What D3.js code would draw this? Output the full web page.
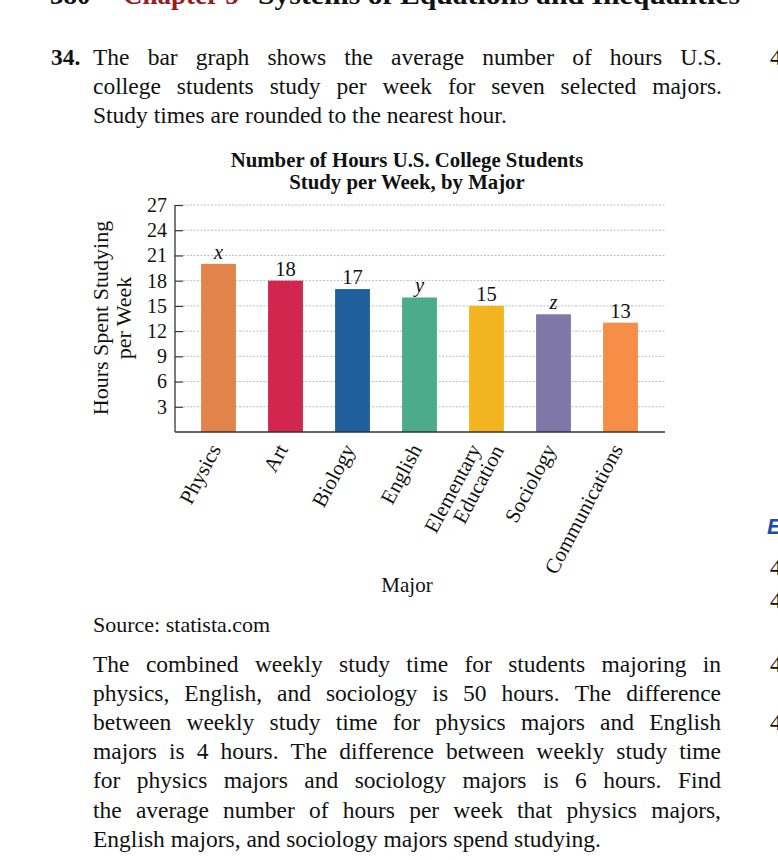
<!DOCTYPE html>
<html>
<head>
<meta charset="utf-8">
<script src="https://cdn.jsdelivr.net/npm/d3@7"></script>
<style>
  html, body { margin: 0; padding: 0; background: #fff; }
  svg { display: block; }
</style>
</head>
<body>
<svg id="page" width="778" height="860"></svg>
<script>
// ---------- data ----------
const majors = ["Physics", "Art", "Biology", "English", "Elementary Education", "Sociology", "Communications"];
const hours = [20, 18, 17, 16, 15, 14, 13];
const valueLabels = ["x", "18", "17", "y", "15", "z", "13"];
const italicLabels = [true, false, false, true, false, true, false];
const barColors = ["#E2834B", "#D2264F", "#1F609C", "#4BAB8B", "#F2B520", "#7E77A8", "#F68E47"];
const yTicks = [3, 6, 9, 12, 15, 18, 21, 24, 27];
const chartTitle = ["Number of Hours U.S. College Students", "Study per Week, by Major"];
const yTitle = ["Hours Spent Studying", "per Week"];
const xTitle = "Major";
const sourceText = "Source: statista.com";
const problemNumber = "34.";
const introLines = [
  "The bar graph shows the average number of hours U.S.",
  "college students study per week for seven selected majors.",
  "Study times are rounded to the nearest hour."
];
const questionLines = [
  "The combined weekly study time for students majoring in",
  "physics, English, and sociology is 50 hours. The difference",
  "between weekly study time for physics majors and English",
  "majors is 4 hours. The difference between weekly study time",
  "for physics majors and sociology majors is 6 hours. Find",
  "the average number of hours per week that physics majors,",
  "English majors, and sociology majors spend studying."
];

// ---------- setup ----------
const svg = d3.select("#page");
const SERIF = "'Liberation Serif', 'Times New Roman', serif";

function measure(text, size, weight) {
  const t = svg.append("text").attr("font-family", SERIF).attr("font-size", size)
    .attr("font-weight", weight || "normal").text(text);
  const w = t.node().getComputedTextLength();
  t.remove();
  return w;
}

function paragraphLine(text, x0, x1, y, size, justify) {
  const t = svg.append("text").attr("font-family", SERIF).attr("font-size", size)
    .attr("fill", "#111").attr("y", y);
  if (!justify) { t.attr("x", x0).text(text); return; }
  const words = text.split(" ");
  const widths = words.map(w => measure(w, size));
  const total = d3.sum(widths);
  const gap = (x1 - x0 - total) / (words.length - 1);
  if (gap < 3) {
    t.attr("x", x0).attr("textLength", x1 - x0).attr("lengthAdjust", "spacingAndGlyphs").text(text);
    return;
  }
  let x = x0;
  words.forEach((w, i) => {
    t.append("tspan").attr("x", x).text(w);
    x += widths[i] + gap;
  });
}

// ---------- page header (clipped at top, as in the scan) ----------
const header = svg.append("text").attr("y", 4).attr("font-family", SERIF)
  .attr("font-weight", "bold").attr("font-size", 27);
header.append("tspan").attr("x", 50).attr("fill", "#111").text("380");
header.append("tspan").attr("x", 123).attr("fill", "#9A1B1E").text("Chapter 5");
svg.append("text").attr("x", 258).attr("y", 4).attr("font-family", SERIF)
  .attr("font-weight", "bold").attr("font-size", 27).attr("fill", "#111")
  .attr("textLength", 482).attr("lengthAdjust", "spacingAndGlyphs")
  .text("Systems of Equations and Inequalities");

// ---------- intro paragraph ----------
const TEXT_SIZE = 23.5;
const X0 = 93, X1 = 722;
svg.append("text").attr("x", 51).attr("y", 65).attr("font-family", SERIF)
  .attr("font-weight", "bold").attr("font-size", TEXT_SIZE).attr("fill", "#111").text(problemNumber);
introLines.forEach((line, i) => {
  paragraphLine(line, X0, X1, 65 + i * 29.2, TEXT_SIZE, i < introLines.length - 1);
});

// ---------- chart ----------
const y = d3.scaleLinear().domain([0, 27]).range([432, 205]);
const x = d3.scaleBand().domain(majors).range([185, 654]).paddingInner(0.48).paddingOuter(0.24);
const axisX0 = 175, axisX1 = 665;

// title
chartTitle.forEach((line, i) => {
  svg.append("text").attr("x", 407).attr("y", 166.5 + i * 22.8)
    .attr("text-anchor", "middle").attr("font-family", SERIF).attr("font-weight", "bold")
    .attr("font-size", 20.8).attr("fill", "#111").text(line);
});

// gridlines
svg.append("g").selectAll("line").data(yTicks).join("line")
  .attr("x1", axisX0 + 8).attr("x2", axisX1)
  .attr("y1", d => y(d)).attr("y2", d => y(d))
  .attr("stroke", "#bdbdbd").attr("stroke-width", 1).attr("stroke-dasharray", "2,1.5");

// bars
svg.append("g").selectAll("rect").data(majors).join("rect")
  .attr("x", d => x(d)).attr("width", x.bandwidth())
  .attr("y", (d, i) => y(hours[i])).attr("height", (d, i) => y(0) - y(hours[i]))
  .attr("fill", (d, i) => barColors[i]);

// value labels
svg.append("g").selectAll("text").data(majors).join("text")
  .attr("x", d => x(d) + x.bandwidth() / 2)
  .attr("y", (d, i) => y(hours[i]) - 5)
  .attr("text-anchor", "middle").attr("font-family", SERIF).attr("font-size", 20.5)
  .attr("font-style", (d, i) => italicLabels[i] ? "italic" : "normal")
  .attr("fill", "#111")
  .text((d, i) => valueLabels[i]);

// y axis
const yAxis = d3.axisLeft(y).tickValues(yTicks).tickSizeInner(-8).tickSizeOuter(0).tickPadding(8);
const gy = svg.append("g").attr("transform", `translate(${axisX0},0)`).call(yAxis);
gy.select(".domain").attr("stroke", "#333").attr("stroke-width", 1.3)
  .attr("d", `M0,${y(27)}V${y(0)}`);
gy.selectAll(".tick line").attr("stroke", "#333").attr("stroke-width", 1.2);
gy.selectAll(".tick text").attr("font-family", SERIF).attr("font-size", 20).attr("fill", "#111");

// x axis baseline
svg.append("line").attr("x1", axisX0).attr("x2", axisX1).attr("y1", y(0)).attr("y2", y(0))
  .attr("stroke", "#333").attr("stroke-width", 1.5);

// category labels (rotated)
const ANG = -62;
majors.forEach((m, i) => {
  const cx = x(m) + x.bandwidth() / 2;
  const parts = m === "Elementary Education" ? [["Elementary", cx - 5, 449], ["Education", cx + 18, 450]]
                                             : [[m, cx + 3, 449]];
  parts.forEach(([txt, px, py]) => {
    svg.append("text").attr("transform", `translate(${px},${py}) rotate(${ANG})`)
      .attr("text-anchor", "end").attr("font-family", SERIF).attr("font-size", 21)
      .attr("fill", "#111").text(txt);
  });
});

// axis titles
svg.append("text").attr("x", 407).attr("y", 591.5).attr("text-anchor", "middle")
  .attr("font-family", SERIF).attr("font-size", 21).attr("fill", "#111").text(xTitle);
yTitle.forEach((line, i) => {
  svg.append("text").attr("transform", `translate(${108 + i * 23},318) rotate(-90)`)
    .attr("text-anchor", "middle").attr("font-family", SERIF).attr("font-size", 22)
    .attr("fill", "#111").text(line);
});

// source
svg.append("text").attr("x", 93).attr("y", 631.5).attr("font-family", SERIF)
  .attr("font-size", 22).attr("fill", "#111").text(sourceText);

// question paragraph
questionLines.forEach((line, i) => {
  paragraphLine(line, X0, 721, 671.5 + i * 29.2, TEXT_SIZE, i < questionLines.length - 1);
});

// right-margin fragments (next column, clipped in the scan)
const marginNums = [[65, "4"], [575, "4"], [608, "4"], [672, "4"], [730, "4"]];
marginNums.forEach(([yy, t]) => {
  svg.append("text").attr("x", 770).attr("y", yy).attr("font-family", SERIF)
    .attr("font-size", TEXT_SIZE).attr("fill", "#111").text(t);
});
svg.append("text").attr("x", 767).attr("y", 534).attr("font-family", "'Liberation Sans', Arial, sans-serif")
  .attr("font-weight", "bold").attr("font-style", "italic").attr("font-size", 22)
  .attr("fill", "#1D4FA3").text("E");
</script>
</body>
</html>
